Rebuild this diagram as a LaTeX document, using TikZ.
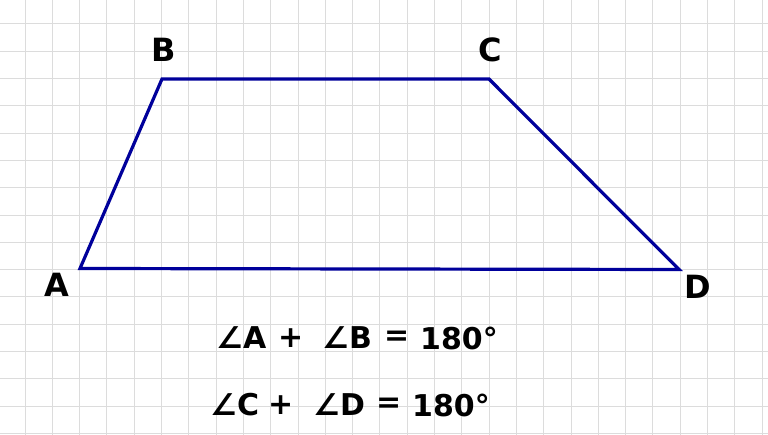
\documentclass[tikz,border=0pt]{standalone}
\usepackage{fontspec}
\setmainfont{DejaVu Sans}
\definecolor{gridgray}{RGB}{220,220,220}
\definecolor{trapblue}{RGB}{0,0,155}
\begin{document}
\begin{tikzpicture}[x=1pt,y=-1pt,
  lbl/.style={font=\fontsize{32}{36}\selectfont\bfseries, inner sep=0pt, text=black},
  eq/.style={font=\fontsize{30}{34}\selectfont\bfseries, inner sep=0pt, text=black, anchor=west},
  side/.style={draw=trapblue, line width=3.2pt, line join=miter}]
\useasboundingbox (0,0) rectangle (768,435);
\fill[white] (0,0) rectangle (768,435);
\foreach \k in {0,...,27} {\draw[gridgray, line width=1pt] ({25+27.3*\k},0) -- ({25+27.3*\k},435);}
\foreach \k in {0,...,15} {\draw[gridgray, line width=1pt] (0,{24+27.3*\k}) -- (768,{24+27.3*\k});}
\coordinate (A) at (80,268.5);
\coordinate (B) at (162,79);
\coordinate (C) at (489,79);
\coordinate (D) at (679,269.5);
\draw[side] (A) -- (B) -- (C) -- (D) -- cycle;
\node[lbl] (lA) at (57,285) {A};
\node[lbl] (lB) at (164,50) {B};
\node[lbl] (lC) at (490,50) {C};
\node[lbl] (lD) at (698,287) {D};
\node[eq] (a1) at (216,338) {∠A};
\node[eq] (p1) at (278,338) {+};
\node[eq] (b1) at (322,338) {∠B};
\node[eq] (e1) at (384,338) {=};
\node[eq] (n1) at (420,338) {180°};
\node[eq] (c2) at (210,405) {∠C};
\node[eq] (p2) at (268,405) {+};
\node[eq] (d2) at (313,405) {∠D};
\node[eq] (e2) at (376,405) {=};
\node[eq] (n2) at (412,405) {180°};
\end{tikzpicture}
\end{document}
